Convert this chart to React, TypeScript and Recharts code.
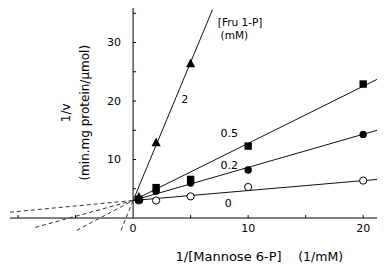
import React from 'react';
import { ComposedChart, XAxis, YAxis, Line, Scatter, ReferenceLine, ReferenceDot } from 'recharts';

// Measured points: 1/[Mannose 6-P] (1/mM) vs 1/v, per [Fru 1-P] (mM)
const fru0 = [
  { x: 0.5, y: 3.0 }, { x: 2, y: 3.0 }, { x: 5, y: 3.7 }, { x: 10, y: 5.3 }, { x: 20, y: 6.4 },
];
const fru02 = [
  { x: 0.5, y: 3.1 }, { x: 2, y: 4.6 }, { x: 5, y: 6.0 }, { x: 10, y: 8.2 }, { x: 20, y: 14.3 },
];
const fru05 = [
  { x: 0.5, y: 3.2 }, { x: 2, y: 5.2 }, { x: 5, y: 6.6 }, { x: 10, y: 12.3 }, { x: 20, y: 22.9 },
];
const fru2 = [
  { x: 0.5, y: 3.6 }, { x: 2, y: 12.9 }, { x: 5, y: 26.4 },
];

// Fitted lines (solid) and their extrapolations (dashed)
const fit0 = [{ x: 0, y: 3.0 }, { x: 21.2, y: 6.6 }];
const fit02 = [{ x: 0, y: 3.0 }, { x: 21.2, y: 15.0 }];
const fit05 = [{ x: 0, y: 3.0 }, { x: 21.2, y: 23.7 }];
const fit2 = [{ x: 0, y: 3.0 }, { x: 6.9, y: 35.6 }];
const ext0 = [{ x: -10.7, y: 1.0 }, { x: 0, y: 3.0 }];
const ext02 = [{ x: -8.5, y: -1.6 }, { x: 0, y: 3.0 }];
const ext05 = [{ x: -4.9, y: -2.1 }, { x: 0, y: 3.0 }];
const ext2 = [{ x: -1.05, y: -2.1 }, { x: 0, y: 3.0 }];

const xDomain = [-10.7, 21.2];
const yDomain = [-2.3, 35.9];
const xTickMarks = [-10, -5, 5, 10, 15, 20];
const xTickLabels = [0, 10, 20];
const yTickMarks = [5, 10, 15, 20, 25, 30, 35];
const yTickLabels = [10, 20, 30];

const seriesLabels = [
  { x: 4.5, y: 20.3, text: '2' },
  { x: 8.35, y: 14.6, text: '0.5' },
  { x: 8.35, y: 9.1, text: '0.2' },
  { x: 8.26, y: 2.5, text: '0' },
];

const OpenCircle = (p: any) => (
  <circle cx={p.cx} cy={p.cy} r={3.6} fill="#fff" stroke="#000" strokeWidth={1} />
);
const FilledCircle = (p: any) => <circle cx={p.cx} cy={p.cy} r={3.7} fill="#000" />;
const FilledSquare = (p: any) => (
  <rect x={p.cx - 3.7} y={p.cy - 3.7} width={7.4} height={7.4} fill="#000" />
);
const FilledTriangle = (p: any) => (
  <polygon
    points={`${p.cx},${p.cy - 5} ${p.cx - 4.6},${p.cy + 3.6} ${p.cx + 4.6},${p.cy + 3.6}`}
    fill="#000"
  />
);

const txt = { fill: '#000', fontSize: 11 };

export default function App() {
  return (
    <div style={{ position: 'absolute', left: 0, top: 0, background: '#fff', fontFamily: 'DejaVu Sans' }}>
      <ComposedChart width={387} height={274} margin={{ top: 8, right: 10, bottom: 42.5, left: 10 }}>
        <XAxis type="number" dataKey="x" domain={xDomain} hide allowDataOverflow />
        <YAxis type="number" dataKey="y" domain={yDomain} hide allowDataOverflow />

        {/* axes through the origin */}
        <ReferenceLine segment={[{ x: xDomain[0], y: 0 }, { x: xDomain[1], y: 0 }]} stroke="#000" strokeWidth={1} />
        <ReferenceLine segment={[{ x: 0, y: 0 }, { x: 0, y: yDomain[1] }]} stroke="#000" strokeWidth={1} />

        {xTickMarks.map((v) => (
          <ReferenceLine key={'xt' + v} segment={[{ x: v, y: 0 }, { x: v, y: 0.5 }]} stroke="#000" />
        ))}
        {xTickLabels.map((v) => (
          <ReferenceLine
            key={'xl' + v}
            segment={[{ x: v, y: 0 }, { x: v, y: 0.01 }]}
            stroke="none"
            label={{ value: String(v), position: 'bottom', offset: 6, ...txt }}
          />
        ))}
        {yTickMarks.map((v) => (
          <ReferenceLine key={'yt' + v} segment={[{ x: 0, y: v }, { x: 0.26, y: v }]} stroke="#000" />
        ))}
        {yTickLabels.map((v) => (
          <ReferenceLine
            key={'yl' + v}
            segment={[{ x: 0, y: v }, { x: 0.01, y: v }]}
            stroke="none"
            label={{ value: String(v), position: 'left', offset: 12, ...txt }}
          />
        ))}

        {/* dashed extrapolations */}
        <Line data={ext0} dataKey="y" type="linear" stroke="#333" strokeWidth={1} strokeDasharray="4 3" dot={false} isAnimationActive={false} />
        <Line data={ext02} dataKey="y" type="linear" stroke="#333" strokeWidth={1} strokeDasharray="4 3" dot={false} isAnimationActive={false} />
        <Line data={ext05} dataKey="y" type="linear" stroke="#333" strokeWidth={1} strokeDasharray="4 3" dot={false} isAnimationActive={false} />
        <Line data={ext2} dataKey="y" type="linear" stroke="#333" strokeWidth={1} strokeDasharray="4 3" dot={false} isAnimationActive={false} />

        {/* fitted lines */}
        <Line data={fit0} dataKey="y" type="linear" stroke="#111" strokeWidth={1} dot={false} isAnimationActive={false} />
        <Line data={fit02} dataKey="y" type="linear" stroke="#111" strokeWidth={1} dot={false} isAnimationActive={false} />
        <Line data={fit05} dataKey="y" type="linear" stroke="#111" strokeWidth={1} dot={false} isAnimationActive={false} />
        <Line data={fit2} dataKey="y" type="linear" stroke="#111" strokeWidth={1} dot={false} isAnimationActive={false} />

        {/* data points */}
        <Scatter data={fru0} dataKey="y" shape={OpenCircle} isAnimationActive={false} />
        <Scatter data={fru02} dataKey="y" shape={FilledCircle} isAnimationActive={false} />
        <Scatter data={fru05} dataKey="y" shape={FilledSquare} isAnimationActive={false} />
        <Scatter data={fru2} dataKey="y" shape={FilledTriangle} isAnimationActive={false} />

        {/* series labels */}
        {seriesLabels.map((s) => (
          <ReferenceDot
            key={'sl' + s.text}
            x={s.x}
            y={s.y}
            r={0}
            fill="none"
            stroke="none"
            label={{ value: s.text, position: 'center', ...txt }}
          />
        ))}
        <ReferenceDot x={9.3} y={33.4} r={0} fill="none" stroke="none"
          label={{ value: '[Fru 1-P]', position: 'center', fill: '#000', fontSize: 10.5 }} />
        <ReferenceDot x={8.8} y={31.2} r={0} fill="none" stroke="none"
          label={{ value: '(mM)', position: 'center', fill: '#000', fontSize: 10.5 }} />

        {/* axis titles */}
        <ReferenceDot x={-5.83} y={18.0} r={0} fill="none" stroke="none" ifOverflow="visible"
          label={{ value: '1/v', position: 'center', angle: -90, fill: '#000', fontSize: 12 }} />
        <ReferenceDot x={-4.17} y={18.0} r={0} fill="none" stroke="none" ifOverflow="visible"
          label={{ value: '(min.mg protein/\u03bcmol)', position: 'center', angle: -90, fill: '#000', fontSize: 12 }} />
        <ReferenceDot x={8.3} y={-6.5} r={0} fill="none" stroke="none" ifOverflow="visible"
          label={{ value: '1/[Mannose 6-P]', position: 'center', fill: '#000', fontSize: 13 }} />
        <ReferenceDot x={16.3} y={-6.5} r={0} fill="none" stroke="none" ifOverflow="visible"
          label={{ value: '(1/mM)', position: 'center', fill: '#000', fontSize: 12.5 }} />
      </ComposedChart>
    </div>
  );
}
